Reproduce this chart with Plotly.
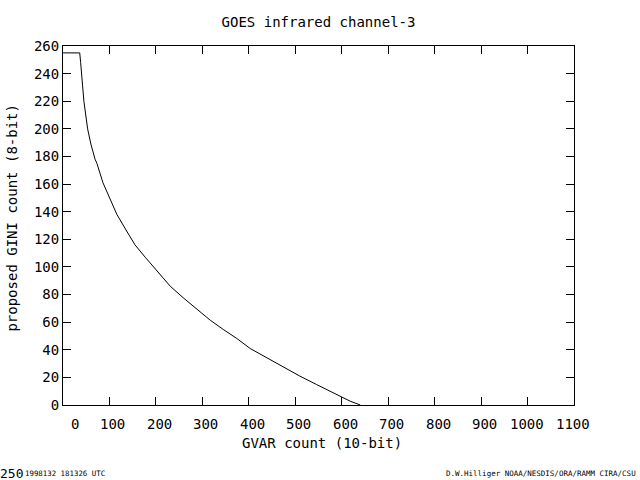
import plotly.graph_objects as go

# data
gvar = [0, 36, 38, 40, 43, 45, 53, 60, 69, 73, 86, 101, 116, 137, 155, 177, 198, 209, 231, 259,
        288, 317, 345, 374, 403, 439, 475, 510, 546, 582, 618, 640]
gini = [255, 255, 248, 240, 228, 220, 200, 189, 178, 175, 161, 149, 138, 126, 116, 107, 99, 94.5, 86, 77.6,
        69.2, 61.4, 54.7, 48.2, 40.9, 34.2, 26.9, 20.9, 14.8, 8.8, 2.8, 0]

x_ticks = [0, 100, 200, 300, 400, 500, 600, 700, 800, 900, 1000, 1100]
y_ticks = [0, 20, 40, 60, 80, 100, 120, 140, 160, 180, 200, 220, 240, 260]

title = "GOES infrared channel-3"
x_title = "GVAR count (10-bit)"
y_title = "proposed GINI count (8-bit)"
footer_left_big = "250"
footer_left_small = "1998132 181326 UTC"
footer_right = "D.W.Hilliger NOAA/NESDIS/ORA/RAMM CIRA/CSU"

FONT = "DejaVu Sans Mono"

fig = go.Figure()
fig.add_trace(go.Scatter(x=gvar, y=gini, mode="lines",
                         line=dict(color="black", width=1), showlegend=False,
                         hoverinfo="skip"))

axis_common = dict(showgrid=False, zeroline=False, showline=True, linecolor="black",
                   linewidth=1, mirror="ticks", ticks="inside", ticklen=8,
                   tickcolor="black", tickwidth=1)

fig.update_xaxes(range=[0, 1100], tickvals=x_ticks, showticklabels=False, **axis_common)
fig.update_yaxes(range=[0, 260], tickvals=y_ticks,
                 tickfont=dict(family=FONT, size=14, color="black"), **axis_common)

annotations = []
for t in x_ticks:
    annotations.append(dict(x=t, y=0, xref="x", yref="paper", text=str(t), showarrow=False,
                            xanchor="right", yanchor="middle", xshift=18, yshift=-19,
                            font=dict(family=FONT, size=14, color="black")))
annotations.append(dict(x=0.5, y=0, xref="paper", yref="paper", text=x_title, showarrow=False,
                        xanchor="center", yanchor="middle", xshift=3, yshift=-38,
                        font=dict(family=FONT, size=14, color="black")))
annotations.append(dict(x=0, y=0.522, xref="paper", yref="paper", text=y_title, showarrow=False,
                        textangle=-90, xanchor="center", yanchor="middle", xshift=-51,
                        font=dict(family=FONT, size=14, color="black")))
annotations.append(dict(x=0, y=7, xref="paper", yref="paper", text=footer_left_big, showarrow=False,
                        xanchor="left", yanchor="middle", xshift=-63, yshift=-68,
                        font=dict(family=FONT, size=13, color="black")))
fig.add_annotation(x=0, y=0, xref="paper", yref="paper", text=footer_left_big, showarrow=False,
                   xanchor="left", yanchor="middle", xshift=-65, yshift=-68,
                   font=dict(family=FONT, size=13, color="black"))
fig.add_annotation(x=0, y=0, xref="paper", yref="paper", text=footer_left_small, showarrow=False,
                   xanchor="left", yanchor="middle", xshift=-40, yshift=-68,
                   font=dict(family=FONT, size=7.4, color="black"))
fig.add_annotation(x=1, y=0, xref="paper", yref="paper", text=footer_right, showarrow=False,
                   xanchor="right", yanchor="middle", xshift=64, yshift=-68,
                   font=dict(family=FONT, size=7.5, color="black"))
for a in annotations[:-1]:
    fig.add_annotation(**a)

fig.update_layout(
    width=640, height=480,
    margin=dict(l=63, r=66, t=46, b=75),
    paper_bgcolor="white", plot_bgcolor="white",
    title=dict(text=title, x=0.5, xref="paper", y=1 - 22 / 480, yref="container",
               xanchor="center", yanchor="middle",
               font=dict(family=FONT, size=14, color="black")),
)

fig.write_html("out.html")
